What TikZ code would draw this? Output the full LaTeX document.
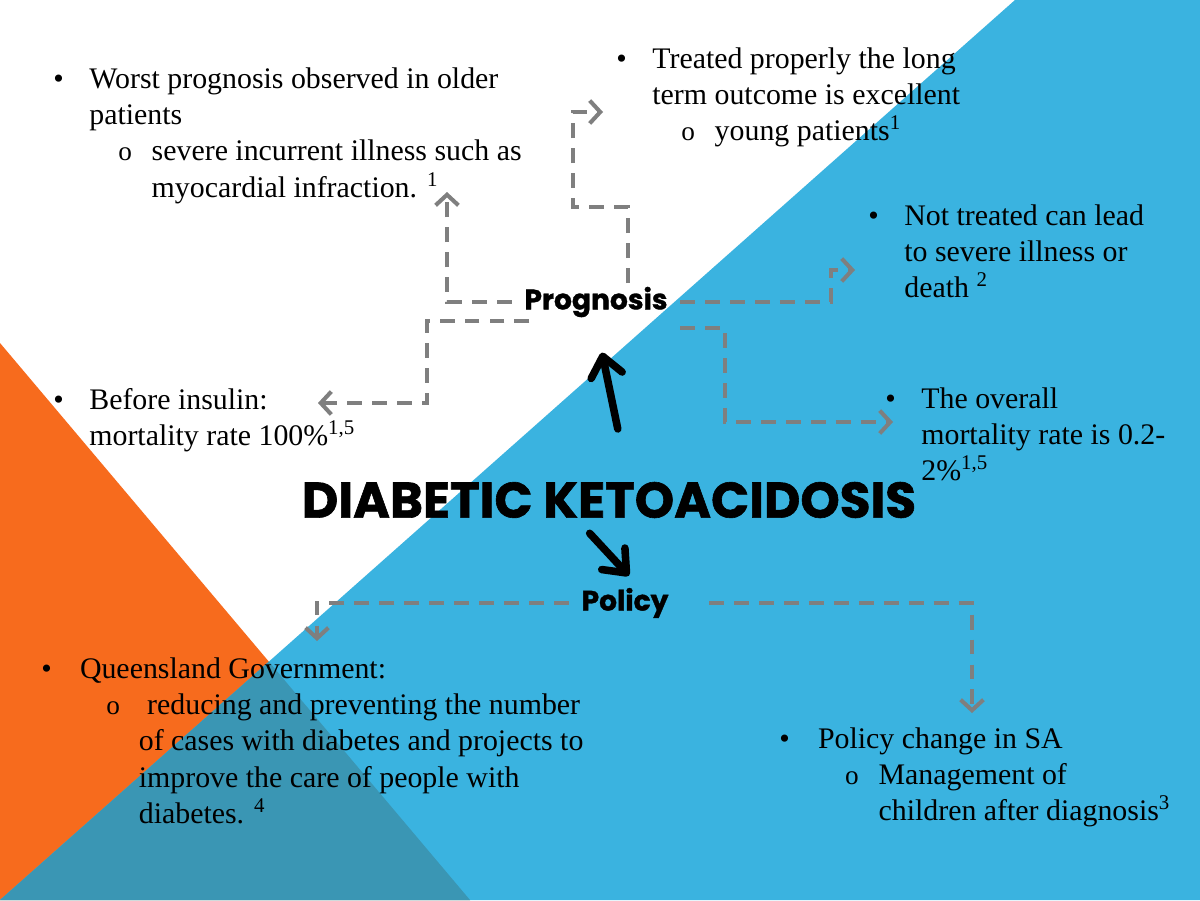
\documentclass[tikz,border=0pt]{standalone}
\usepackage{fontspec}
\setmainfont{Liberation Serif}
\newfontfamily\popfont{Poppins}[BoldFeatures={FakeBold=1.2}]
\usetikzlibrary{arrows.meta}

\definecolor{slideblue}{RGB}{58,179,224}
\definecolor{slideorange}{RGB}{247,107,29}
\definecolor{slideteal}{RGB}{58,150,180}
\definecolor{dashgray}{RGB}{127,127,127}

% bullets and indents of the text blocks
\newcommand{\bul}{\makebox[20.5pt][l]{•}}
\newcommand{\bulw}{\makebox[22pt][l]{•}}
\newcommand{\subul}{\makebox[19pt][l]{\fontsize{15.5}{15.5}\selectfont o}}

\tikzset{
    txt/.style = {anchor=north west, inner sep=0pt, align=left,
                  font=\fontsize{17}{20.7}\selectfont},
    hub/.style = {font=\popfont\bfseries\fontsize{16}{19}\selectfont,
                  inner xsep=7pt, inner ysep=2pt},
    conn/.style = {draw=dashgray, line width=2.3pt,
                   dash pattern=on 8.5pt off 5.7pt,
                   -{Straight Barb[length=6pt,width=13pt]}},
    bigarrow/.style = {line width=4.3pt, line cap=round,
                       -{Straight Barb[length=11pt,width=18pt,round]}}
}

\begin{document}
\begin{tikzpicture}[x=0.02cm, y=-0.02cm]
    % Hintergrund
    \fill[white] (0,0) rectangle (1200,900);
    \fill[slideorange] (0,343) -- (470,900) -- (0,900) -- cycle;
    \fill[slideblue] (1015,0) -- (1200,0) -- (1200,900) -- (0,900) -- cycle;
    \begin{scope}
        \clip (0,343) -- (470,900) -- (0,900) -- cycle;
        \fill[slideteal] (1015,0) -- (1200,0) -- (1200,900) -- (0,900) -- cycle;
    \end{scope}

    % Titel und Zweige
    \node[font=\popfont\bfseries\fontsize{28.5}{30}\selectfont, inner sep=0pt]
        (dka) at (609,500) {DIABETIC KETOACIDOSIS};
    \node[hub] (prog) at (596,302) {Prognosis};
    \node[hub] (pol) at (625,603) {Policy};

    \draw[bigarrow] ([xshift=5pt,yshift=30pt]dka.north) -- ([xshift=3.4pt,yshift=-18pt]prog.south);
    \draw[bigarrow] ([xshift=-11pt,yshift=-8.5pt]dka.south) -- ([xshift=2.3pt,yshift=4.8pt]pol.north);

    % Texte
    \node[txt] (worst) at (53,67) {\bul Worst prognosis observed in older\\
        \hspace*{20.5pt}patients\\
        \hspace*{37pt}\subul severe incurrent illness such as\\
        \hspace*{56pt}myocardial infraction. \textsuperscript{1}};
    \node[txt] (treated) at (616,47) {\bul Treated properly the long\\
        \hspace*{20.5pt}term outcome is excellent\\
        \hspace*{37pt}\subul young patients\textsuperscript{1}};
    \node[txt] (nottreated) at (868,204) {\bul Not treated can lead\\
        \hspace*{20.5pt}to severe illness or\\
        \hspace*{20.5pt}death \textsuperscript{2}};
    \node[txt] (overall) at (885,387) {\bul The overall\\
        \hspace*{20.5pt}mortality rate is 0.2-\\
        \hspace*{20.5pt}2\%\textsuperscript{1,5}};
    \node[txt] (insulin) at (53,388) {\bul Before insulin:\\
        \hspace*{20.5pt}mortality rate 100\%\textsuperscript{1,5}};
    \node[txt] (queensland) at (41,657) {\bulw Queensland Government:\\
        \hspace*{37pt}\subul\ reducing and preventing the number\\
        \hspace*{55.5pt}of cases with diabetes and projects to\\
        \hspace*{55.5pt}improve the care of people with\\
        \hspace*{55.5pt}diabetes. \textsuperscript{4}};
    \node[txt] (sa) at (779,727) {\bulw Policy change in SA\\
        \hspace*{37.5pt}\subul Management of\\
        \hspace*{56.5pt}children after diagnosis\textsuperscript{3}};

    % Pfeilenden
    \coordinate (aw) at (447,192);
    \coordinate (ai) at (318,403);
    \coordinate (at) at (603,112);
    \coordinate (an) at (855,270);
    \coordinate (ao) at (893,422);
    \coordinate (aq) at (317,641);
    \coordinate (as) at (972,713);

    % Verbindungen Prognosis
    \draw[conn] (prog.west) -| (aw);
    \draw[conn] ([xshift=10pt]prog.south west) -| (427,403) -- (ai);
    \draw[conn] ([xshift=18pt]prog.north) |- (573,207) |- (at);
    \draw[conn] (prog.east) -| (831,270) -- (an);
    \draw[conn] ([yshift=-4pt]prog.south east) -| (725,422) -- (ao);

    % Verbindungen Policy
    \draw[conn] (pol.west) -| (aq);
    \draw[conn] ([xshift=16pt]pol.east) -| (as);
\end{tikzpicture}
\end{document}
